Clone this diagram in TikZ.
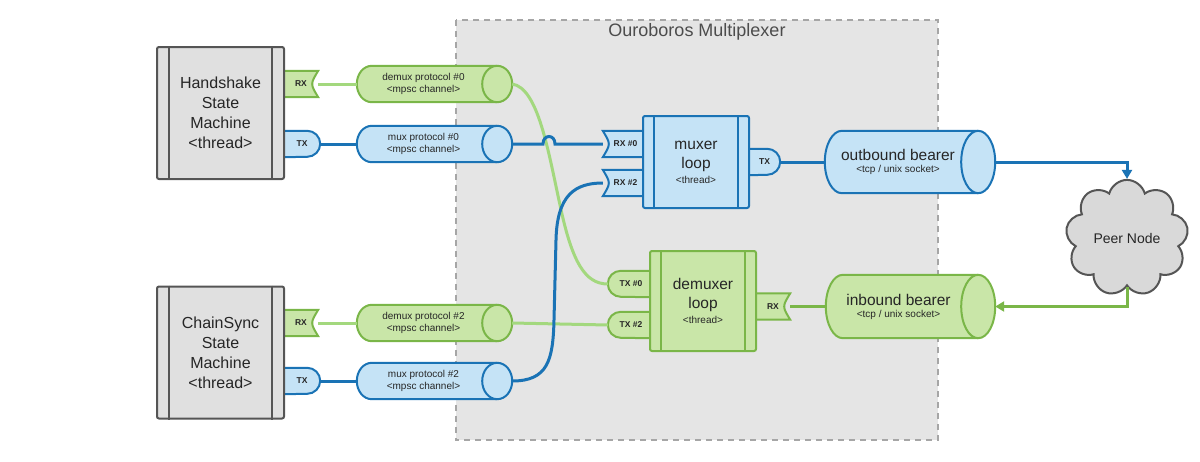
\documentclass[tikz,border=0pt]{standalone}
\usepackage{fontspec}
\setmainfont{Liberation Sans}
\usetikzlibrary{shapes.symbols,backgrounds,arrows.meta,calc}
\definecolor{bl}{HTML}{1A73B5}
\definecolor{blf}{HTML}{C5E3F6}
\definecolor{gr}{HTML}{7AB648}
\definecolor{grf}{HTML}{C9E6A8}
\definecolor{grl}{HTML}{A3D87E}
\definecolor{dg}{HTML}{555555}
\tikzset{
 lbl/.style={inner sep=0pt,font=\bfseries\fontsize{8.5}{9}\selectfont,text=black!85},
 cyltxt/.style={inner sep=0pt,align=center,font=\fontsize{10}{12}\selectfont,text=black!85},
 thr/.style={draw=dg,fill=black!12,line width=2pt,rounded corners=2pt,align=center,
   minimum width=127pt,minimum height=132pt,font=\fontsize{16}{20}\selectfont,text=black!85},
 loopbox/.style={line width=2pt,rounded corners=2pt,align=center,minimum width=106pt,
   font=\fontsize{15.5}{19}\selectfont,text=black!85},
 bw/.style={line width=3pt,draw=bl},
 gw/.style={line width=3pt,draw=grl},
}
\newcommand\cyl[4]{%
 \path[fill=#2,draw=#3,line width=2pt] let \p1=(#1.north), \p2=(#1.south), \n1={0.5*(\y1-\y2)} in
  ([xshift=#4]#1.north west) arc[start angle=90,end angle=270,x radius=#4,y radius=\n1]
  -- ([xshift=-#4]#1.south east) arc[start angle=-90,end angle=90,x radius=#4,y radius=\n1] -- cycle;
 \draw[#3,line width=2pt] let \p1=(#1.north), \p2=(#1.south), \n1={0.5*(\y1-\y2)} in
  ([xshift=-#4]#1.south east) arc[start angle=270,end angle=90,x radius=#4,y radius=\n1];}
\newcommand\tabCR[3]{\path[fill=#2,draw=#3,line width=2pt] (#1.south west) -- (#1.north west) -- (#1.north east) .. controls ([xshift=-8pt]#1.east) .. (#1.south east) -- cycle;}
\newcommand\tabCL[3]{\path[fill=#2,draw=#3,line width=2pt] (#1.south east) -- (#1.north east) -- (#1.north west) .. controls ([xshift=8pt]#1.west) .. (#1.south west) -- cycle;}
\newcommand\tabRR[3]{\path[fill=#2,draw=#3,line width=2pt] (#1.south west) -- (#1.north west) -- ([xshift=-13pt]#1.north east) arc[start angle=90,end angle=-90,radius=13pt] -- cycle;}
\newcommand\tabRL[3]{\path[fill=#2,draw=#3,line width=2pt] (#1.south east) -- (#1.north east) -- ([xshift=13pt]#1.north west) arc[start angle=90,end angle=270,radius=13pt] -- cycle;}
\begin{document}
\begin{tikzpicture}[x=1pt,y=-1pt]
\useasboundingbox (0,0) rectangle (1200,461);
\node[minimum width=482pt,minimum height=420pt,inner sep=0] (mpx) at (697,230) {};
\node[font=\fontsize{18}{20}\selectfont,text=black!70] (title) at (697,32) {Ouroboros Multiplexer};
\node[thr] (hs) at (220.5,113) {Handshake\\State\\Machine\\<thread>};
\node[thr] (cs) at (220.5,352.5) {ChainSync\\State\\Machine\\<thread>};
\foreach \b in {hs,cs}{\draw[dg,line width=2pt] ([xshift=13pt]\b.north west) -- ([xshift=13pt]\b.south west) ([xshift=-13pt]\b.north east) -- ([xshift=-13pt]\b.south east);}
\node[lbl,minimum width=34pt,minimum height=26pt] (hrx) at (301,84) {RX\hspace{6pt}};
\node[lbl,minimum width=36pt,minimum height=26pt] (htx) at (302,144) {TX\hspace{6pt}};
\node[lbl,minimum width=34pt,minimum height=26pt] (crx) at (301,323) {RX\hspace{6pt}};
\node[lbl,minimum width=36pt,minimum height=26pt] (ctx) at (302,381) {TX\hspace{6pt}};
\node[lbl,minimum width=40pt,minimum height=26pt] (rx0) at (623,144) {\hspace{5pt}RX \#0};
\node[lbl,minimum width=40pt,minimum height=26pt] (rx2) at (623,183) {\hspace{5pt}RX \#2};
\node[lbl,minimum width=31pt,minimum height=26pt] (mtx) at (764.5,162) {TX\hspace{5pt}};
\node[lbl,minimum width=42pt,minimum height=26pt] (tx0) at (629,284) {\hspace{4pt}TX \#0};
\node[lbl,minimum width=42pt,minimum height=26pt] (tx2) at (629,325) {\hspace{4pt}TX \#2};
\node[lbl,minimum width=34pt,minimum height=26pt] (drx) at (773,306.5) {RX\hspace{6pt}};
\node[cyltxt,minimum width=155pt,minimum height=36pt] (d0) at (434.5,84) {\hspace{-22pt}demux protocol \#0\\\hspace{-22pt}<mpsc channel>};
\node[cyltxt,minimum width=155pt,minimum height=36pt] (m0) at (434.5,144) {\hspace{-22pt}mux protocol \#0\\\hspace{-22pt}<mpsc channel>};
\node[cyltxt,minimum width=155pt,minimum height=36pt] (d2) at (434.5,323) {\hspace{-22pt}demux protocol \#2\\\hspace{-22pt}<mpsc channel>};
\node[cyltxt,minimum width=155pt,minimum height=36pt] (m2) at (434.5,381) {\hspace{-22pt}mux protocol \#2\\\hspace{-22pt}<mpsc channel>};
\node[cyltxt,minimum width=170pt,minimum height=62pt] (ob) at (910,162) {\hspace{-24pt}{\fontsize{15.5}{18}\selectfont outbound bearer}\\\hspace{-24pt}<tcp / unix socket>};
\node[cyltxt,minimum width=169pt,minimum height=63pt] (ib) at (910.5,306.5) {\hspace{-24pt}{\fontsize{15.5}{18}\selectfont inbound bearer}\\\hspace{-24pt}<tcp / unix socket>};
\begin{scope}[on background layer]
 \path[draw=black!35,dash pattern=on 6pt off 5pt,line width=2pt,fill=black!10] (mpx.north west) rectangle (mpx.south east);
 \tabCR{hrx}{grf}{gr}\tabRR{htx}{blf}{bl}\tabCR{crx}{grf}{gr}\tabRR{ctx}{blf}{bl}
 \tabCL{rx0}{blf}{bl}\tabCL{rx2}{blf}{bl}\tabRR{mtx}{blf}{bl}
 \tabRL{tx0}{grf}{gr}\tabRL{tx2}{grf}{gr}\tabCR{drx}{grf}{gr}
 \cyl{d0}{grf}{gr}{15pt}\cyl{m0}{blf}{bl}{15pt}\cyl{d2}{grf}{gr}{15pt}\cyl{m2}{blf}{bl}{15pt}
 \cyl{ob}{blf}{bl}{17pt}\cyl{ib}{grf}{gr}{17pt}
\end{scope}
\node[loopbox,draw=bl,fill=blf,minimum height=92pt] (mux) at (696,162) {muxer\\loop\\[-4pt]{\fontsize{10}{12}\selectfont <thread>}};
\node[loopbox,draw=gr,fill=grf,minimum height=100pt] (dmx) at (703,301) {demuxer\\loop\\[-4pt]{\fontsize{10}{12}\selectfont <thread>}};
\draw[bl,line width=2pt] ([xshift=12pt]mux.north west) -- ([xshift=12pt]mux.south west) ([xshift=-12pt]mux.north east) -- ([xshift=-12pt]mux.south east);
\draw[gr,line width=2pt] ([xshift=12pt]dmx.north west) -- ([xshift=12pt]dmx.south west) ([xshift=-12pt]dmx.north east) -- ([xshift=-12pt]dmx.south east);
\node[cloud,cloud puffs=9,aspect=1.1,draw=dg,fill=black!15,line width=2pt,minimum width=104pt,minimum height=90pt,font=\fontsize{14}{16}\selectfont,text=black!85] (peer) at (1127,238) {Peer Node};
\draw[gw] (hrx.east) -- (d0.west);
\draw[bw] (htx.east) -- (m0.west);
\draw[gw] (crx.east) -- (d2.west);
\draw[bw] (ctx.east) -- (m2.west);
\draw[gw] (d0.east) .. controls (538,88) and (548,150) .. (560,205) .. controls (572,262) and (585,284) .. (tx0.west);
\draw[gw] (d2.east) -- (tx2.west);
\draw[bw] (m0.east) -- (543,144) .. controls (543,134) and (555,134) .. (555,144) -- (rx0.west);
\draw[bw] (m2.east) .. controls (548,381) and (553,360) .. (554,320) -- (556,240) .. controls (557,195) and (575,183) .. (rx2.west);
\draw[bw] (mtx.east) -- (ob.west);
\draw[gw,draw=gr] (drx.east) -- (ib.west);
\draw[bw,-{Triangle[length=9pt,width=10pt]}] (ob.east) -| (peer.north);
\draw[gw,draw=gr,-{Triangle[length=9pt,width=10pt]}] (peer.south) |- (ib.east);
\end{tikzpicture}
\end{document}
